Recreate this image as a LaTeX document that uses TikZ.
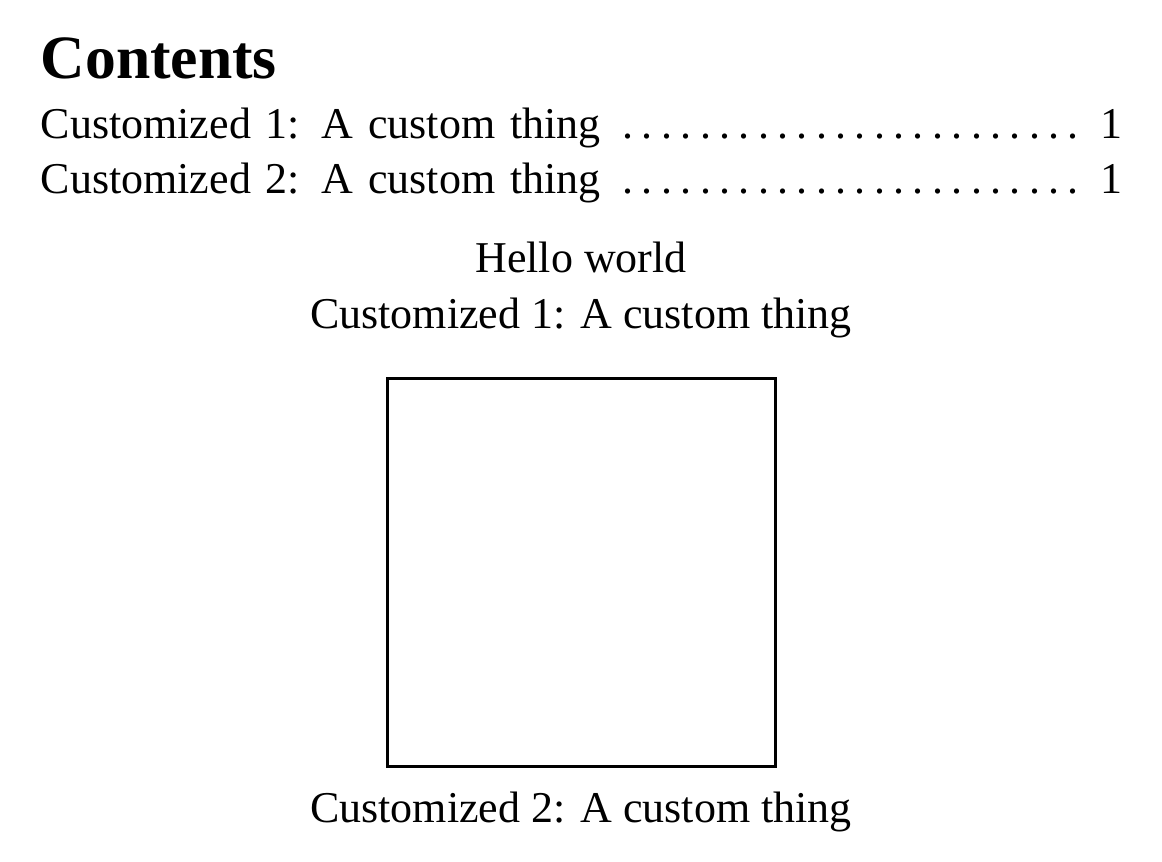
\documentclass[tikz,border=0pt]{standalone}
\usepackage{fontspec}
\setmainfont{Liberation Serif}
\begin{document}
\begin{tikzpicture}[x=0.25pt,y=-0.25pt,
  txt/.style={inner sep=0pt,font=\fontsize{11}{13}\selectfont}]
\useasboundingbox (0,0) rectangle (1162,861);
\node[txt,anchor=base west,font=\fontsize{15.4}{18}\selectfont\bfseries] (h) at (40,78) {Contents};
\node[txt,anchor=base west,text width=270.5pt] (t1) at (40,138) {Customized 1: A custom thing \dotfill\ 1};
\node[txt,anchor=base west,text width=270.5pt] (t2) at (40,193) {Customized 2: A custom thing \dotfill\ 1};
\node[txt,anchor=base] (hw) at (581,272) {Hello world};
\node[txt,anchor=base] (c1) at (581,328) {Customized 1: A custom thing};
\draw[line width=0.75pt] (387,378) rectangle (775,766);
\node[txt,anchor=base] (c2) at (581,822) {Customized 2: A custom thing};
\end{tikzpicture}
\end{document}
